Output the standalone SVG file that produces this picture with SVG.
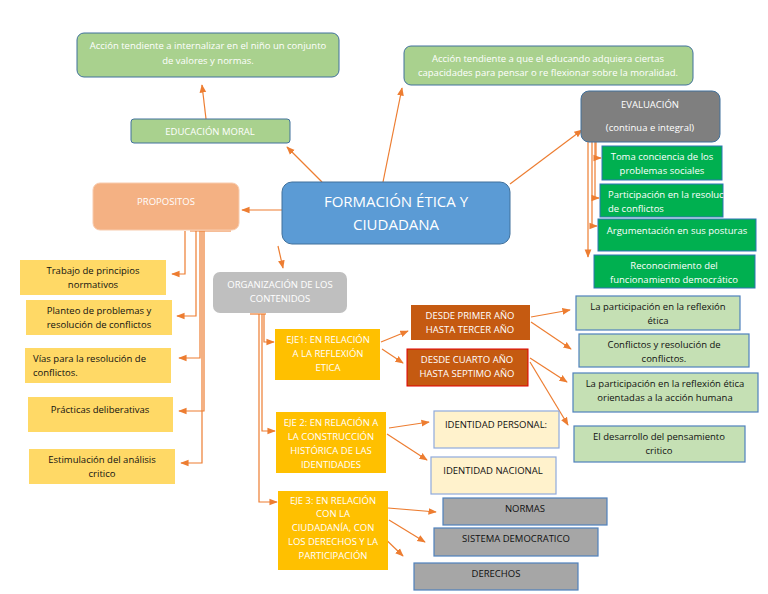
<svg xmlns="http://www.w3.org/2000/svg" width="768" height="594" viewBox="0 0 768 594">
<defs>
<marker id="a" viewBox="0 0 10 10" refX="9" refY="5" markerWidth="7" markerHeight="7" orient="auto"><path d="M0,1 L10,5 L0,9 z" fill="#ed7d31"/></marker>
<style>
text{font-family:"Open Sans","Liberation Sans",sans-serif;text-anchor:middle}
.w{fill:#fff;font-size:9.5px}
.k{fill:#111;font-size:9.5px}
.c{fill:none;stroke:#ed7d31;stroke-width:1.2;marker-end:url(#a)}
.p{fill:none;stroke:#ed7d31;stroke-width:1.2}
.lg{fill:#a9d18e;stroke:#41719c;stroke-width:1}
.g{fill:#00b050;stroke:#2e75b6;stroke-width:1}
.y{fill:#ffd966}
.o{fill:#ffc000}
.lc{fill:#c5e0b4;stroke:#4f81bd;stroke-width:1.2}
.cr{fill:#fff2cc;stroke:#8faadc;stroke-width:1.2}
.gr{fill:#a6a6a6;stroke:#4f81bd;stroke-width:1.2}
</style>
</defs>
<g id="connectors">
<path class="c" d="M322,182 L287,147"/>
<path class="c" d="M206,119 L202,85"/>
<path class="c" d="M383,182 L402,88"/>
<path class="c" d="M510,184 L582,130"/>
<path class="c" d="M282,210 L242,210"/>
<path class="c" d="M278,246 L283,268"/>
<path class="p" d="M190,231 L231,231"/>
<path class="c" d="M185,231 L185,274 L172,274"/>
<path class="c" d="M196,231 L196,316 L177,316"/>
<path class="c" d="M200,231 L200,358 L179,358"/>
<path class="c" d="M204,231 L204,411 L179,411"/>
<path class="c" d="M202,231 L202,463 L181,463"/>
<path class="p" d="M250,314 L266,314"/>
<path class="c" d="M264,314 L264,342 L274,342"/>
<path class="c" d="M262,314 L262,431 L275,431"/>
<path class="c" d="M259,314 L259,502 L277,502"/>
<path class="c" d="M381,342 L408,331"/>
<path class="c" d="M382,349 L403,363"/>
<path class="c" d="M531,317 L570,310"/>
<path class="c" d="M531,322 L571,349"/>
<path class="c" d="M530,358 L567,382"/>
<path class="c" d="M530,362 L568,425"/>
<path class="c" d="M389,428 L429,422"/>
<path class="c" d="M387,434 L427,460"/>
<path class="c" d="M388,508 L436,512"/>
<path class="c" d="M389,520 L425,542"/>
<path class="c" d="M376,530 L403,556"/>
<path class="p" d="M587,141 L597,141"/>
<path class="c" d="M596,141 L596,158 L601,158"/>
<path class="c" d="M595,141 L595,198 L599,198"/>
<path class="c" d="M592,141 L592,226 L597,226"/>
<path class="c" d="M588,141 L588,257"/>
</g>
<g id="central"><rect x="282" y="182" width="228" height="62" rx="10" fill="#5b9bd5" stroke="#41719c"/><text x="396" y="207" fill="#fff" font-size="15">FORMACIÓN ÉTICA Y</text><text x="396" y="230" fill="#fff" font-size="15">CIUDADANA</text></g>
<g id="accion1"><rect class="lg" x="77" y="33" width="262" height="44" rx="7"/><text class="w" x="208" y="49">Acción tendiente a internalizar en el niño un conjunto</text><text class="w" x="208" y="64">de valores y normas.</text></g>
<g id="edu"><rect class="lg" x="131" y="119" width="159" height="24" rx="3"/><text class="w" x="210" y="135">EDUCACIÓN MORAL</text></g>
<g id="accion2"><rect class="lg" x="404" y="46" width="289" height="39" rx="7"/><text class="w" x="548" y="62">Acción tendiente a que el educando adquiera ciertas</text><text class="w" x="548" y="76">capacidades para pensar o re flexionar sobre la moralidad.</text></g>
<g id="eval"><rect x="581" y="91" width="139" height="51" rx="8" fill="#7f7f7f" stroke="#41719c"/><text class="w" x="650" y="108">EVALUACIÓN</text><text class="w" x="650" y="131">(continua e integral)</text></g>
<g id="toma"><rect class="g" x="602" y="146" width="120" height="34"/><text class="w" x="662" y="160">Toma conciencia de los</text><text class="w" x="662" y="174">problemas sociales</text></g>
<g id="partic"><rect class="g" x="600" y="184" width="123" height="33"/><text class="w" x="608" y="198" style="text-anchor:start">Participación en la resolución</text><text class="w" x="608" y="212" style="text-anchor:start">de conflictos</text></g>
<g id="argum"><rect class="g" x="598" y="219" width="158" height="32"/><text class="w" x="677" y="234">Argumentación en sus posturas</text></g>
<g id="recon"><rect class="g" x="594" y="255" width="161" height="33"/><text class="w" x="674" y="269">Reconocimiento del</text><text class="w" x="674" y="283">funcionamiento democrático</text></g>
<g id="propositos"><rect x="93" y="183" width="146" height="47" rx="7" fill="#f4b183" stroke="#f8cbad"/><text class="w" x="166" y="205">PROPOSITOS</text></g>
<g id="trabajo"><rect class="y" x="20" y="260" width="146" height="35"/><text class="k" x="93" y="274">Trabajo de principios</text><text class="k" x="93" y="288">normativos</text></g>
<g id="planteo"><rect class="y" x="26" y="300" width="146" height="35"/><text class="k" x="99" y="314">Planteo de problemas y</text><text class="k" x="99" y="328">resolución de conflictos</text></g>
<g id="vias"><rect class="y" x="25" y="348" width="146" height="35"/><text class="k" x="33" y="362" style="text-anchor:start">Vías para la resolución de</text><text class="k" x="33" y="376" style="text-anchor:start">conflictos.</text></g>
<g id="practicas"><rect class="y" x="28" y="397" width="145" height="35"/><text class="k" x="100" y="413">Prácticas deliberativas</text></g>
<g id="estim"><rect class="y" x="29" y="449" width="146" height="35"/><text class="k" x="102" y="463">Estimulación del análisis</text><text class="k" x="102" y="477">critico</text></g>
<g id="org"><rect x="213" y="272" width="134" height="41" rx="7" fill="#bfbfbf"/><text class="w" x="280" y="288">ORGANIZACIÓN DE LOS</text><text class="w" x="280" y="302">CONTENIDOS</text></g>
<g id="eje1"><rect class="o" x="275" y="329" width="105" height="51"/><text class="w" x="328" y="343">EJE1: EN RELACIÓN</text><text class="w" x="328" y="357">A LA REFLEXIÓN</text><text class="w" x="328" y="371">ETICA</text></g>
<g id="eje2"><rect class="o" x="276" y="412" width="110" height="61"/><text class="w" x="331" y="426">EJE 2: EN RELACIÓN A</text><text class="w" x="331" y="440">LA CONSTRUCCIÓN</text><text class="w" x="331" y="454">HISTÓRICA DE LAS</text><text class="w" x="331" y="468">IDENTIDADES</text></g>
<g id="eje3"><rect class="o" x="278" y="491" width="110" height="79"/><text class="w" x="333" y="504">EJE 3: EN RELACIÓN</text><text class="w" x="333" y="517">CON LA</text><text class="w" x="333" y="531">CIUDADANÍA, CON</text><text class="w" x="333" y="545">LOS DERECHOS Y LA</text><text class="w" x="333" y="559">PARTICIPACIÓN</text></g>
<g id="primer"><rect x="411" y="305" width="119" height="35" fill="#c55a11"/><text class="w" x="470" y="319">DESDE PRIMER AÑO</text><text class="w" x="470" y="333">HASTA TERCER AÑO</text></g>
<g id="cuarto"><rect x="407" y="349" width="121" height="37" fill="#c55a11" stroke="#e00000" stroke-width="1"/><text class="w" x="467" y="363">DESDE CUARTO AÑO</text><text class="w" x="467" y="377">HASTA SEPTIMO AÑO</text></g>
<g id="lp1"><rect class="lc" x="576" y="296" width="164" height="34"/><text class="k" x="658" y="310">La participación en la reflexión</text><text class="k" x="658" y="324">ética</text></g>
<g id="conf"><rect class="lc" x="579" y="334" width="170" height="33"/><text class="k" x="664" y="348">Conflictos y resolución de</text><text class="k" x="664" y="362">conflictos.</text></g>
<g id="lp2"><rect class="lc" x="573" y="373" width="185" height="39"/><text class="k" x="665" y="387">La participación en la reflexión ética</text><text class="k" x="665" y="401">orientadas a la acción humana</text></g>
<g id="desarr"><rect class="lc" x="574" y="426" width="171" height="36"/><text class="k" x="659" y="440">El desarrollo del pensamiento</text><text class="k" x="659" y="454">critico</text></g>
<g id="idp"><rect class="cr" x="434" y="411" width="125" height="37"/><text class="k" x="496" y="428">IDENTIDAD PERSONAL:</text></g>
<g id="idn"><rect class="cr" x="431" y="457" width="125" height="37"/><text class="k" x="493" y="474">IDENTIDAD NACIONAL</text></g>
<g id="normas"><rect class="gr" x="443" y="498" width="164" height="27"/><text class="k" x="525" y="512">NORMAS</text></g>
<g id="sistema"><rect class="gr" x="434" y="528" width="164" height="28"/><text class="k" x="516" y="542">SISTEMA DEMOCRATICO</text></g>
<g id="derechos"><rect class="gr" x="414" y="563" width="164" height="27"/><text class="k" x="496" y="577">DERECHOS</text></g>
</svg>
